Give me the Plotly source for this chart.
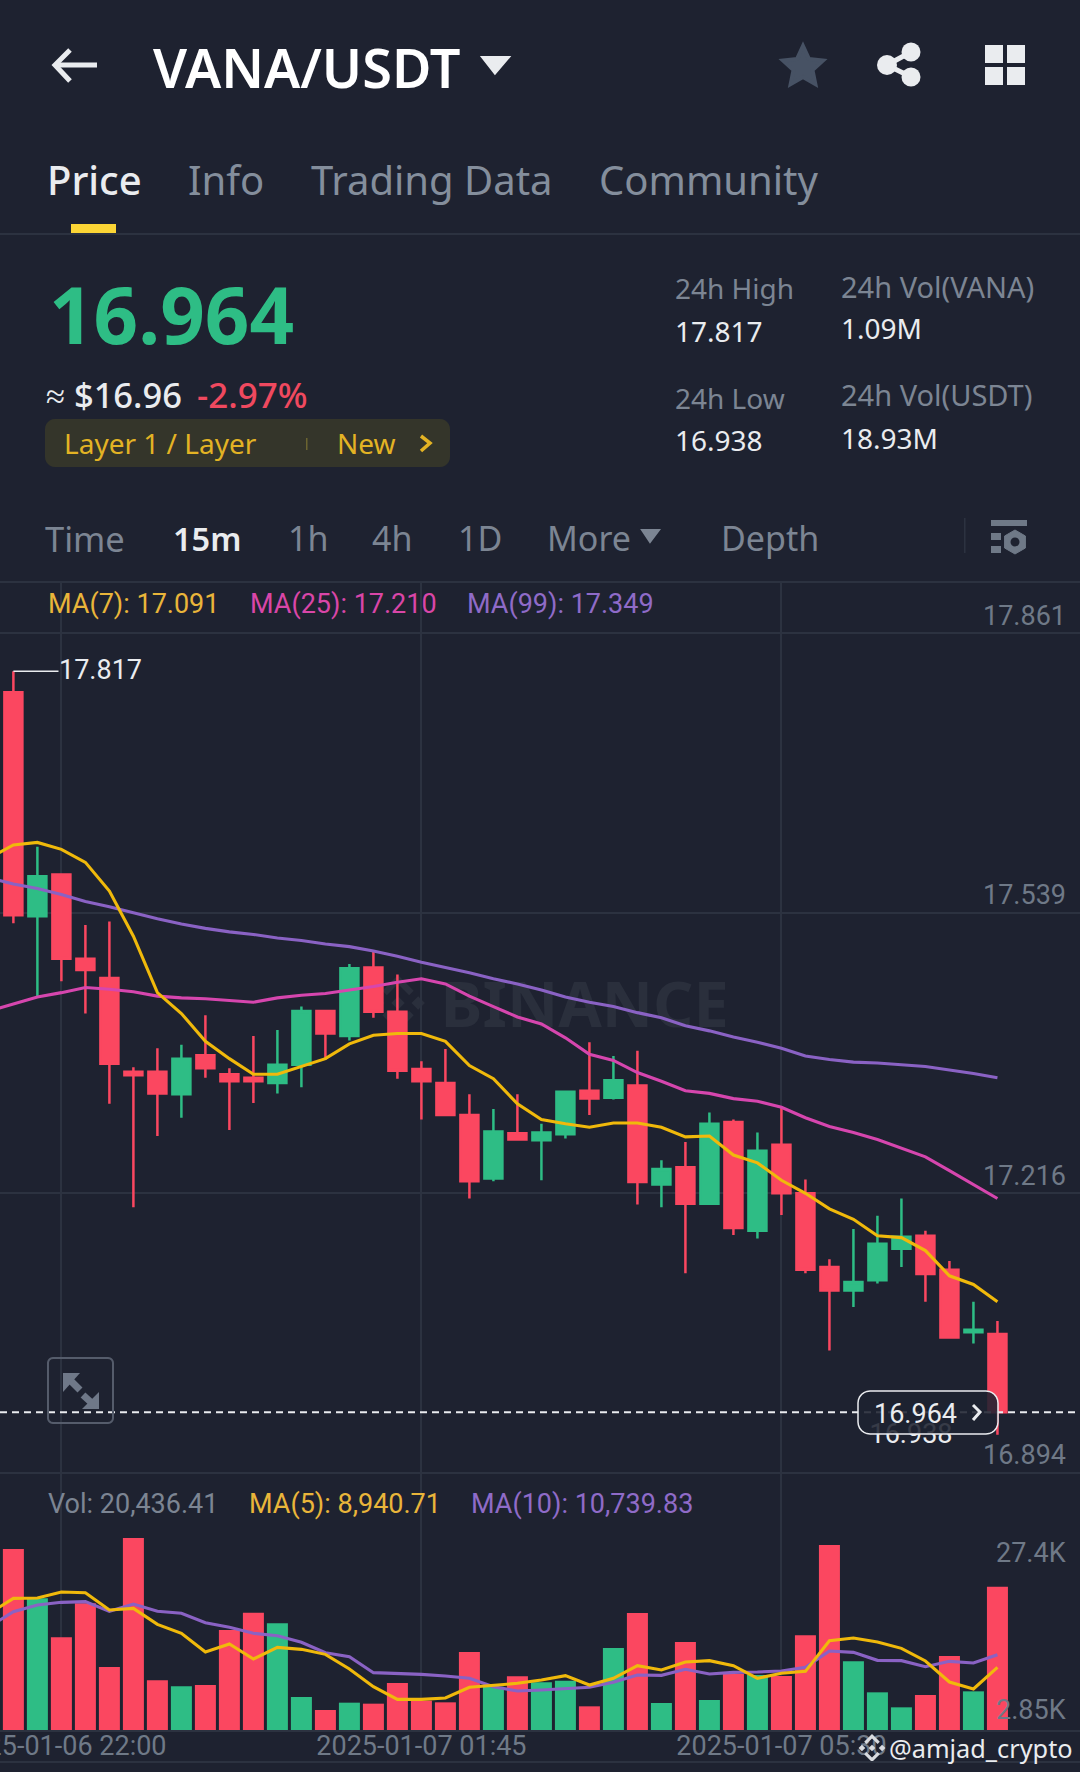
import math
import pandas as pd
import plotly.graph_objects as go

W, H = 1080, 1772
BG = "#1e2230"
GRID = "#2c3240"
GREEN = "#2ebd85"
RED = "#fb4760"
YELLOW = "#f0b90b"
PINK = "#d646ae"
PURPLE = "#8a62c4"
GRAY = "#848e9c"
AXIS = "#6f7987"
TEXT = "#eaecef"
MARK = "#2a2f3c"

# candles, 15m
opens = [17.793, 17.535, 17.583, 17.486, 17.464, 17.356, 17.356, 17.330, 17.375, 17.353, 17.349,
         17.343, 17.364, 17.426, 17.397, 17.476, 17.425, 17.359, 17.343, 17.306, 17.233, 17.285,
         17.277, 17.284, 17.334, 17.326, 17.340, 17.226, 17.246, 17.204, 17.298, 17.173, 17.272,
         17.216, 17.131, 17.104, 17.116, 17.152, 17.167, 17.128, 17.056, 17.054]
highs = [17.817, 17.615, 17.584, 17.525, 17.529, 17.361, 17.383, 17.387, 17.421, 17.360, 17.397,
         17.404, 17.431, 17.427, 17.480, 17.494, 17.468, 17.368, 17.382, 17.330, 17.313, 17.330,
         17.296, 17.333, 17.390, 17.374, 17.380, 17.254, 17.275, 17.309, 17.301, 17.286, 17.316,
         17.232, 17.140, 17.175, 17.190, 17.210, 17.173, 17.138, 17.091, 17.069]
lows = [17.527, 17.443, 17.460, 17.423, 17.319, 17.200, 17.282, 17.303, 17.349, 17.289, 17.320,
        17.331, 17.338, 17.370, 17.392, 17.418, 17.348, 17.301, 17.306, 17.210, 17.230, 17.278,
        17.231, 17.279, 17.306, 17.324, 17.203, 17.200, 17.124, 17.204, 17.168, 17.164, 17.191,
        17.124, 17.035, 17.085, 17.112, 17.131, 17.091, 17.050, 17.043, 16.938]
closes = [17.536, 17.581, 17.486, 17.473, 17.365, 17.352, 17.331, 17.371, 17.360, 17.345, 17.345,
          17.364, 17.426, 17.400, 17.475, 17.425, 17.357, 17.345, 17.306, 17.230, 17.287, 17.278,
          17.286, 17.333, 17.325, 17.346, 17.229, 17.244, 17.204, 17.296, 17.176, 17.265, 17.216,
          17.128, 17.104, 17.114, 17.158, 17.166, 17.123, 17.050, 17.059, 16.964]
volumes = [25809, 18774, 13213, 18061, 8983, 27377, 7082, 6226, 6417, 14259, 16731,
           15210, 4705, 2852, 3897, 3755, 6702, 4183, 3945, 11122, 6179, 7652,
           6797, 7034, 3375, 11692, 16683, 3850, 12548, 4278, 7985, 7842, 7700,
           13499, 26379, 9791, 5371, 3232, 4991, 10552, 5513, 20436.41]

# moving averages start one candle earlier, that candle is off screen
ma7 = [17.602, 17.617, 17.620, 17.612, 17.597, 17.564, 17.512, 17.447, 17.423, 17.391, 17.371, 17.353,
       17.353, 17.362, 17.371, 17.388, 17.398, 17.400, 17.400, 17.391, 17.363, 17.348, 17.319,
       17.301, 17.296, 17.292, 17.297, 17.297, 17.292, 17.281, 17.282, 17.260, 17.251, 17.231,
       17.216, 17.198, 17.186, 17.167, 17.165, 17.150, 17.121, 17.111, 17.091]
ma25 = [17.426, 17.434, 17.442, 17.447, 17.453, 17.451, 17.448, 17.443, 17.441, 17.440, 17.438, 17.436,
        17.441, 17.444, 17.446, 17.450, 17.454, 17.459, 17.463, 17.457, 17.443, 17.431, 17.419,
        17.411, 17.395, 17.376, 17.369, 17.355, 17.345, 17.334, 17.331, 17.325, 17.322, 17.315,
        17.303, 17.293, 17.286, 17.278, 17.268, 17.258, 17.242, 17.226, 17.210]
ma99 = [17.579, 17.572, 17.567, 17.560, 17.552, 17.546, 17.539, 17.532, 17.526, 17.521, 17.517, 17.514,
        17.510, 17.507, 17.503, 17.500, 17.495, 17.489, 17.482, 17.476, 17.470, 17.463, 17.457,
        17.450, 17.442, 17.436, 17.431, 17.424, 17.418, 17.409, 17.403, 17.396, 17.390, 17.383,
        17.374, 17.370, 17.367, 17.366, 17.364, 17.362, 17.358, 17.354, 17.349]
vol_ma5 = [16636, 18774, 18822, 19677, 19582, 17111, 17348, 15067, 13784, 11122, 12263, 10124,
           11787, 11502, 10789, 8698, 6179, 4373, 4373, 4563, 6084, 6417, 6654,
           7130, 7747, 6417, 7367, 9173, 8555, 9696, 9886, 9173, 7367, 8080,
           8365, 12738, 13118, 12548, 11645, 9839, 6844, 5846, 8940.71]
vol_ma10 = [14734, 16873, 17824, 18204, 18299, 16921, 17966, 16921, 16636, 15305, 14639, 13784,
            13451, 12500, 11027, 10457, 8175, 8080, 7938, 7700, 7367, 6179, 5561,
            5704, 5941, 6084, 6797, 7842, 7795, 8650, 7985, 8223, 8270, 8413,
            8936, 11265, 11074, 9934, 9886, 9031, 9791, 9554, 10739.83]

price_ticks = [17.861, 17.539, 17.216, 16.894]
time_ticks = ["2025-01-06 22:00", "2025-01-07 01:45", "2025-01-07 05:30"]

times = pd.date_range("2025-01-06 21:30", periods=len(opens), freq="15min")
ma_times = pd.date_range("2025-01-06 21:15", periods=len(ma7), freq="15min")
step = pd.Timedelta(minutes=15)
x_range = [str(times[0] - 0.558 * step), str(times[0] + 44.44 * step)]


def px(x):
    return x / W


def py(y):
    return 1 - y / H


def note(text, x, y, size, color, font="Noto Sans", weight=400, anchor="left"):
    fig.add_annotation(xref="paper", yref="paper", x=px(x), y=py(y), text=text, showarrow=False,
                       xanchor=anchor, yanchor="middle", borderpad=0, borderwidth=0,
                       font=dict(family=font, size=size, color=color, weight=weight))


def outline(points, close=True):
    d = "M" + " L".join(f"{px(x):.5f},{py(y):.5f}" for x, y in points)
    return d + (" Z" if close else "")


def poly(points, color, width=0, close=True, layer="above"):
    fig.add_shape(type="path", xref="paper", yref="paper", path=outline(points, close), layer=layer,
                  fillcolor=color if close else "rgba(0,0,0,0)",
                  line=dict(color=color, width=width))


def rect(x0, y0, x1, y1, color, line=None, width=0):
    fig.add_shape(type="rect", xref="paper", yref="paper", x0=px(x0), x1=px(x1), y0=py(y0), y1=py(y1),
                  fillcolor=color, line=dict(color=line or color, width=width))


def round_box(x0, y0, x1, y1, r, fill, line=None, width=0):
    pts = []
    for cx, cy, a in [(x1 - r, y0 + r, -90), (x1 - r, y1 - r, 0), (x0 + r, y1 - r, 90), (x0 + r, y0 + r, 180)]:
        for k in range(7):
            t = math.radians(a + 15 * k)
            pts.append((cx + r * math.cos(t), cy + r * math.sin(t)))
    fig.add_shape(type="path", xref="paper", yref="paper", path=outline(pts), fillcolor=fill,
                  line=dict(color=line or fill, width=width))


def dot(cx, cy, r, color):
    fig.add_shape(type="circle", xref="paper", yref="paper", x0=px(cx - r), x1=px(cx + r),
                  y0=py(cy - r), y1=py(cy + r), fillcolor=color, line=dict(color=color, width=0))


def diamond(cx, cy, r, color, layer="above"):
    poly([(cx, cy - r), (cx + r, cy), (cx, cy + r), (cx - r, cy)], color, layer=layer)


def logo(cx, cy, r, color, layer="above"):
    # the exchange's mark: centre and side diamonds, two chevrons
    diamond(cx, cy, 0.24 * r, color, layer)
    diamond(cx - 0.72 * r, cy, 0.24 * r, color, layer)
    diamond(cx + 0.72 * r, cy, 0.24 * r, color, layer)
    for s in (-1, 1):
        pts = [(cx - 0.56 * r, cy + s * 0.44 * r), (cx, cy + s * r), (cx + 0.56 * r, cy + s * 0.44 * r),
               (cx + 0.4 * r, cy + s * 0.28 * r), (cx, cy + s * 0.68 * r), (cx - 0.4 * r, cy + s * 0.28 * r)]
        poly(pts, color, layer=layer)


fig = go.Figure()
fig.add_trace(go.Candlestick(x=times, open=opens, high=highs, low=lows, close=closes, name="VANA/USDT",
                             whiskerwidth=0,
                             increasing=dict(line=dict(color=GREEN, width=2.5), fillcolor=GREEN),
                             decreasing=dict(line=dict(color=RED, width=2.5), fillcolor=RED)))
# text traces, so that the lines and the badge lie over them
fig.add_trace(go.Scatter(x=[times[0] + 23.8 * step], y=[17.426], mode="text", text=["BINANCE"],
                         textposition="middle center", name="watermark",
                         textfont=dict(family="Noto Sans", size=63, color=MARK, weight=700)))
fig.add_trace(go.Scatter(x=[times[0] + 37.4 * step], y=[min(lows) - 0.002], mode="text", text=[f"{min(lows):.3f}"],
                         textposition="middle center", name="24h low",
                         textfont=dict(family="Roboto", size=27, color=TEXT)))
for name, values, color in [("MA(99)", ma99, PURPLE), ("MA(25)", ma25, PINK), ("MA(7)", ma7, YELLOW)]:
    fig.add_trace(go.Scatter(x=ma_times, y=values, mode="lines", name=name, line=dict(color=color, width=3.1)))

bar_colors = [GREEN if c >= o else RED for o, c in zip(opens, closes)]
fig.add_trace(go.Bar(x=times, y=volumes, marker=dict(color=bar_colors, line=dict(width=0)), name="Vol",
                     width=0.875 * 900000, xaxis="x2", yaxis="y2"))
fig.add_trace(go.Scatter(x=ma_times, y=vol_ma10, mode="lines", name="MA(10)", xaxis="x2", yaxis="y2",
                         line=dict(color=PURPLE, width=3.1)))
fig.add_trace(go.Scatter(x=ma_times, y=vol_ma5, mode="lines", name="MA(5)", xaxis="x2", yaxis="y2",
                         line=dict(color=YELLOW, width=3.1)))

fig.update_layout(
    width=W, height=H, margin=dict(l=0, r=0, t=0, b=0, autoexpand=False), paper_bgcolor=BG, plot_bgcolor=BG,
    showlegend=False, boxgap=0.25, boxgroupgap=0,
    font=dict(family="Roboto", color=GRAY),
    xaxis=dict(domain=[0, 1], range=x_range, type="date", rangeslider=dict(visible=False),
               tickvals=time_ticks, showticklabels=False, ticks="", showgrid=True,
               gridcolor=GRID, gridwidth=1.5, zeroline=False, anchor="y"),
    yaxis=dict(domain=[py(1476), py(582)], range=[16.8905, 17.9198], side="right", tickvals=price_ticks,
               tickformat=".3f", ticklabelposition="inside", ticks="", ticklabelstandoff=11, ticklabelshift=-18,
               ticklabeloverflow="allow", tickfont=dict(family="Roboto", size=27, color=AXIS), showgrid=True,
               gridcolor=GRID, gridwidth=1.5, zeroline=False, anchor="x"),
    xaxis2=dict(domain=[0, 1], range=x_range, type="date", tickvals=time_ticks, tickformat="%Y-%m-%d %H:%M",
                ticks="", ticklabelstandoff=-9, ticklabeloverflow="allow",
                tickfont=dict(family="Roboto", size=27, color=AXIS), showgrid=True,
                gridcolor=GRID, gridwidth=1.5, zeroline=False, showline=True, linecolor=GRID,
                linewidth=1.5, anchor="y2"),
    yaxis2=dict(domain=[py(1730), py(1476)], range=[0, 36218], showticklabels=False, ticks="",
                showgrid=False, zeroline=False, anchor="x2"),
)

logo(398, 1003, 28, MARK, layer="below")

# last price and extremes, in data coordinates
fig.add_shape(type="line", xref="x", yref="y", x0=str(times[0]), x1=str(times[0] + 1.88 * step),
              y0=highs[0], y1=highs[0], line=dict(color=TEXT, width=1.5))
fig.add_shape(type="line", xref="x", yref="y", x0=x_range[0], x1=x_range[1], y0=closes[-1], y1=closes[-1],
              line=dict(color=TEXT, width=2, dash="7px,5px"))
fig.add_annotation(xref="x", yref="y", x=str(times[0] + 1.92 * step), y=highs[0], text=f"{highs[0]:.3f}",
                   showarrow=False, xanchor="left", yanchor="middle", yshift=1, borderpad=0, borderwidth=0,
                   font=dict(family="Roboto", size=27, color=TEXT))
round_box(858, 1391, 998, 1434, 12, "rgba(30,34,48,0.88)", line=TEXT, width=1.5)
note(f"{closes[-1]:.3f}", 874, 1414, 27, TEXT, font="Roboto")
poly([(973, 1405), (980, 1412), (973, 1420)], TEXT, width=3, close=False)

# volume axis labels
fig.add_annotation(xref="paper", yref="y2", x=px(1066), y=max(volumes), text="27.4K", showarrow=False,
                   xanchor="right", yanchor="middle", yshift=-15, borderpad=0, borderwidth=0,
                   font=dict(family="Roboto", size=27, color=AXIS))
fig.add_annotation(xref="paper", yref="y2", x=px(1066), y=min(volumes), text="2.85K", showarrow=False,
                   xanchor="right", yanchor="middle", borderpad=0, borderwidth=0,
                   font=dict(family="Roboto", size=27, color=AXIS))

# header
poly([(56, 65), (97, 65)], TEXT, width=5, close=False)
poly([(70, 50), (55, 65), (70, 81)], TEXT, width=5, close=False)
note("VANA/USDT", 153, 67, 54, "#ffffff", weight=600)
poly([(484, 58), (507, 58), (495, 72)], TEXT, width=4)
star = []
for k in range(10):
    r = 21 if k % 2 == 0 else 10
    t = math.radians(-90 + 36 * k)
    star.append((803 + r * math.cos(t), 67 + r * math.sin(t)))
poly(star, "#475264", width=4)
poly([(911, 52), (887, 65), (911, 77)], TEXT, width=5, close=False)
dot(887, 65, 10, TEXT)
dot(911, 52, 9.5, TEXT)
dot(911, 77, 9.5, TEXT)
for x0 in (985, 1007):
    for y0 in (45, 67):
        rect(x0, y0, x0 + 18, y0 + 18, TEXT)

# tabs
note("Price", 47, 179, 40, TEXT, weight=500)
note("Info", 188, 179, 40, GRAY)
note("Trading Data", 311, 179, 40, GRAY)
note("Community", 599, 179, 40, GRAY)
rect(71, 224, 116, 233, "#fcd535")
rect(0, 233, W, 235, GRID)

# ticker block
note("16.964", 49, 314, 78, GREEN, weight=700)
note("≈ $16.96", 46, 395, 34.5, TEXT, weight=500)
note("-2.97%", 197, 395, 35, "#f0495f", weight=500)
round_box(45, 419, 450, 467, 10, "#34352a")
note("Layer 1 / Layer", 64, 443, 28, "#e3b324")
rect(306, 438, 307.5, 450, "#6b6430")
note("New", 337, 443, 28, "#e3b324")
poly([(421, 436), (430, 443), (421, 451)], "#e3b324", width=3.5, close=False)

note("24h High", 675, 288, 28, "#7c8593")
note("17.817", 675, 331, 28, TEXT)
note("24h Low", 675, 398, 28, "#7c8593")
note("16.938", 675, 440, 28, TEXT)
note("24h Vol(VANA)", 841, 287, 29, "#7c8593")
note("1.09M", 841, 328, 28, TEXT)
note("24h Vol(USDT)", 841, 395, 29, "#7c8593")
note("18.93M", 841, 438, 28, TEXT)

# interval row
note("Time", 45, 538, 34.5, "#7c8593")
note("15m", 173, 538, 32.5, TEXT, weight=600)
note("1h", 288, 538, 34, "#7c8593")
note("4h", 372, 538, 34, "#7c8593")
note("1D", 458, 538, 34, "#7c8593")
note("More", 547, 538, 34, "#7c8593")
poly([(642, 530), (659, 530), (650, 542)], "#7c8593", width=2)
note("Depth", 721, 538, 34, "#7c8593")
rect(964, 518, 965.5, 553, GRID)
rect(991, 520, 1027, 526, AXIS)
rect(991, 533, 1001, 540, AXIS)
rect(991, 546, 1001, 553, AXIS)
hexagon = []
for k in range(6):
    t = math.radians(-90 + 60 * k)
    hexagon.append((1015 + 12 * math.cos(t), 542 + 12 * math.sin(t)))
poly(hexagon, AXIS, width=1)
dot(1015, 542, 4.5, BG)
rect(0, 581, W, 583, GRID)

# indicator readouts
note("MA(7): 17.091", 48, 604, 27, "#e9b53a", font="Roboto")
note("MA(25): 17.210", 250, 604, 27, "#d946a8", font="Roboto")
note("MA(99): 17.349", 467, 604, 27, "#8f6bc8", font="Roboto")
note("Vol: 20,436.41", 48, 1504, 27, "#7c8593", font="Roboto")
note("MA(5): 8,940.71", 249, 1504, 27, "#e9b53a", font="Roboto")
note("MA(10): 10,739.83", 471, 1504, 27, "#8f6bc8", font="Roboto")

# expand button
round_box(48, 1358, 113, 1423, 5, "rgba(0,0,0,0)", line="#555c6b", width=2)
poly([(63, 1373), (80, 1373), (63, 1392)], "#6f7888")
poly([(68, 1378), (80, 1390)], "#6f7888", width=7, close=False)
poly([(99, 1409), (82, 1409), (99, 1392)], "#6f7888")
poly([(83, 1395), (95, 1406)], "#6f7888", width=7, close=False)

# handle at the bottom
note("@amjad_crypto", 889, 1748, 25.3, TEXT)
logo(872, 1748, 14, "#d8dbe0")

rect(0, 1761, W, 1763, GRID)

fig.write_html("out.html", post_script="document.body.style.margin='0';", config=dict(displayModeBar=False))
